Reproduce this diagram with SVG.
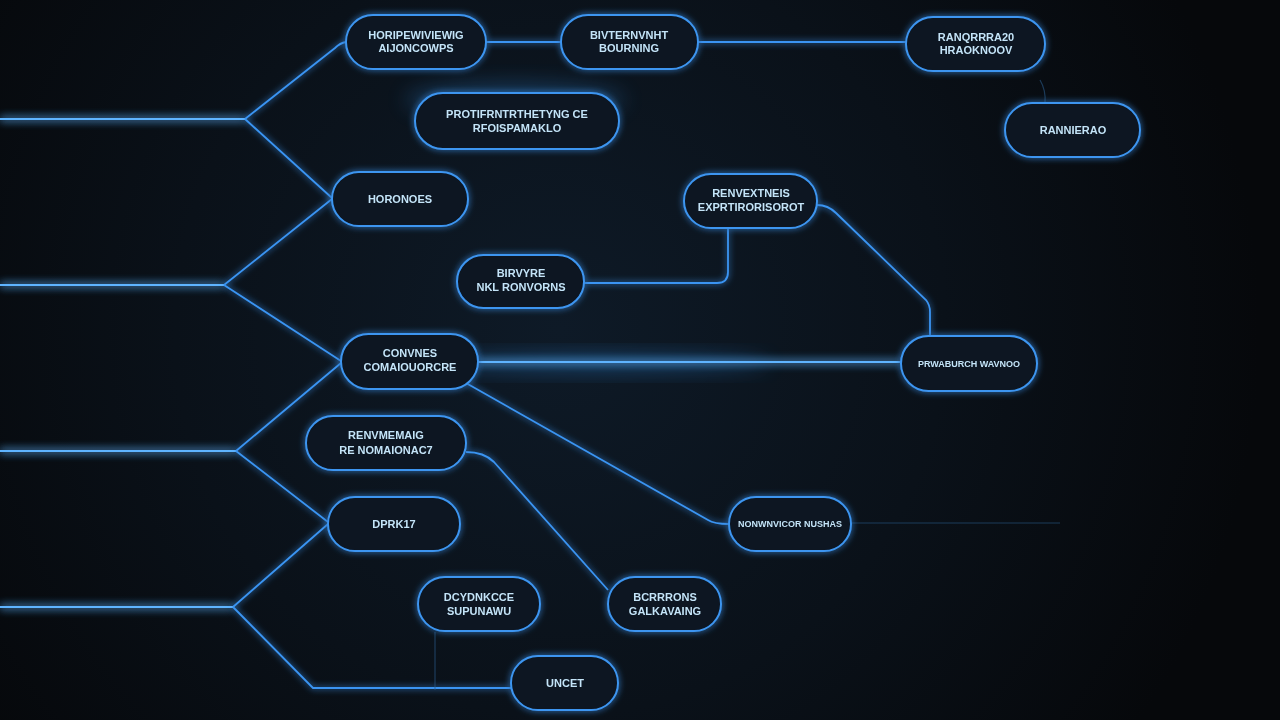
<svg xmlns="http://www.w3.org/2000/svg" width="1280" height="720" viewBox="0 0 1280 720">
<defs>
<radialGradient id="bg" cx="560" cy="330" r="700" gradientUnits="userSpaceOnUse">
<stop offset="0" stop-color="#0e1a27"/>
<stop offset="0.55" stop-color="#0a1119"/>
<stop offset="1" stop-color="#06080b"/>
</radialGradient>
<filter id="glow" x="-20%" y="-50%" width="140%" height="200%">
<feGaussianBlur in="SourceGraphic" stdDeviation="3" result="b"/>
<feMerge><feMergeNode in="b"/><feMergeNode in="SourceGraphic"/></feMerge>
</filter>
<filter id="glowL" filterUnits="userSpaceOnUse" x="0" y="0" width="1280" height="720">
<feGaussianBlur in="SourceGraphic" stdDeviation="4" result="b"/>
<feMerge><feMergeNode in="b"/><feMergeNode in="b"/><feMergeNode in="SourceGraphic"/></feMerge>
</filter>
<filter id="soft" x="-50%" y="-50%" width="200%" height="200%">
<feGaussianBlur stdDeviation="10"/>
</filter>
</defs>
<style>
.node rect{fill:#0a1420;stroke:#3d95f0;stroke-width:2;}
.node text{font-family:"Liberation Sans","DejaVu Sans",sans-serif;font-weight:bold;font-size:11px;fill:#c4e4f8;text-anchor:middle;}
.node text.sm{font-size:9px;}
.wire{fill:none;stroke:#3a94f2;stroke-width:1.8;}
.bright{fill:none;stroke:#5fb4ff;stroke-width:2.2;}
.faint{fill:none;stroke:#2a5a88;stroke-width:1.2;opacity:0.6;}
</style>
<rect width="1280" height="720" fill="url(#bg)"/>
<ellipse cx="515" cy="100" rx="110" ry="18" fill="#2b6fb0" opacity="0.35" filter="url(#soft)"/>
<ellipse cx="600" cy="363" rx="170" ry="10" fill="#2b80d0" opacity="0.35" filter="url(#soft)"/>

<g id="connectors">
<g filter="url(#glowL)">
<path class="bright" d="M0 119 H245"/>
<path class="bright" d="M0 285 H224"/>
<path class="bright" d="M0 451 H236"/>
<path class="bright" d="M0 607 H233"/>
<path class="bright" d="M478 362 H901"/>
</g>
<g filter="url(#glow)">
<path class="wire" d="M245 119 L335 48 Q340 43 346 42 M245 119 L332 198"/>
<path class="wire" d="M224 285 L332 199 M224 285 L341 361"/>
<path class="wire" d="M236 451 L341 363 M236 451 L328 522"/>
<path class="wire" d="M233 607 L328 524 M233 607 L313 688 H511"/>
<path class="wire" d="M486 42 H561 M698 42 H906"/>
<path class="wire" d="M728 228 V272 Q728 283 717 283 H584"/>
<path class="wire" d="M817 205 Q828 205 836 213 L926 300 Q930 305 930 312 V336"/>
<path class="wire" d="M466 383 L708 520 Q714 524 729 524"/>
<path class="wire" d="M466 452 Q484 452 494 462 L608 590"/>
</g>
<path class="faint" d="M1040 80 Q1046 90 1045 103"/>
<path class="faint" d="M851 523 H1060"/>
<path class="faint" d="M435 632 V690"/>
</g>

<g id="n1" class="node" filter="url(#glow)"><rect x="346" y="15" width="140" height="54" rx="27"/><text x="416" y="39">HORIPEWIVIEWIG</text><text x="416" y="52">AIJONCOWPS</text></g>
<g id="n2" class="node" filter="url(#glow)"><rect x="561" y="15" width="137" height="54" rx="27"/><text x="629" y="39">BIVTERNVNHT</text><text x="629" y="52">BOURNING</text></g>
<g id="n3" class="node" filter="url(#glow)"><rect x="906" y="17" width="139" height="54" rx="27"/><text x="976" y="41">RANQRRRA20</text><text x="976" y="54">HRAOKNOOV</text></g>
<g id="n4" class="node" filter="url(#glow)"><rect x="1005" y="103" width="135" height="54" rx="27"/><text x="1073" y="134">RANNIERAO</text></g>
<g id="n5" class="node" filter="url(#glow)"><rect x="415" y="93" width="204" height="56" rx="28"/><text x="517" y="118">PROTIFRNTRTHETYNG CE</text><text x="517" y="132">RFOISPAMAKLO</text></g>
<g id="n6" class="node" filter="url(#glow)"><rect x="332" y="172" width="136" height="54" rx="27"/><text x="400" y="203">HORONOES</text></g>
<g id="n7" class="node" filter="url(#glow)"><rect x="684" y="174" width="133" height="54" rx="27"/><text x="751" y="197">RENVEXTNEIS</text><text x="751" y="211">EXPRTIRORISOROT</text></g>
<g id="n8" class="node" filter="url(#glow)"><rect x="457" y="255" width="127" height="53" rx="26.5"/><text x="521" y="277">BIRVYRE</text><text x="521" y="291">NKL RONVORNS</text></g>
<g id="n9" class="node" filter="url(#glow)"><rect x="341" y="334" width="137" height="55" rx="27.5"/><text x="410" y="357">CONVNES</text><text x="410" y="371">COMAIOUORCRE</text></g>
<g id="n10" class="node" filter="url(#glow)"><rect x="901" y="336" width="136" height="55" rx="27.5"/><text class="sm" x="969" y="367">PRWABURCH WAVNOO</text></g>
<g id="n11" class="node" filter="url(#glow)"><rect x="306" y="416" width="160" height="54" rx="27"/><text x="386" y="439">RENVMEMAIG</text><text x="386" y="454">RE NOMAIONAC7</text></g>
<g id="n12" class="node" filter="url(#glow)"><rect x="328" y="497" width="132" height="54" rx="27"/><text x="394" y="528">DPRK17</text></g>
<g id="n13" class="node" filter="url(#glow)"><rect x="729" y="497" width="122" height="54" rx="27"/><text class="sm" x="790" y="527">NONWNVICOR NUSHAS</text></g>
<g id="n14" class="node" filter="url(#glow)"><rect x="418" y="577" width="122" height="54" rx="27"/><text x="479" y="601">DCYDNKCCE</text><text x="479" y="615">SUPUNAWU</text></g>
<g id="n15" class="node" filter="url(#glow)"><rect x="608" y="577" width="113" height="54" rx="27"/><text x="665" y="601">BCRRRONS</text><text x="665" y="615">GALKAVAING</text></g>
<g id="n16" class="node" filter="url(#glow)"><rect x="511" y="656" width="107" height="54" rx="27"/><text x="565" y="687">UNCET</text></g>
</svg>
